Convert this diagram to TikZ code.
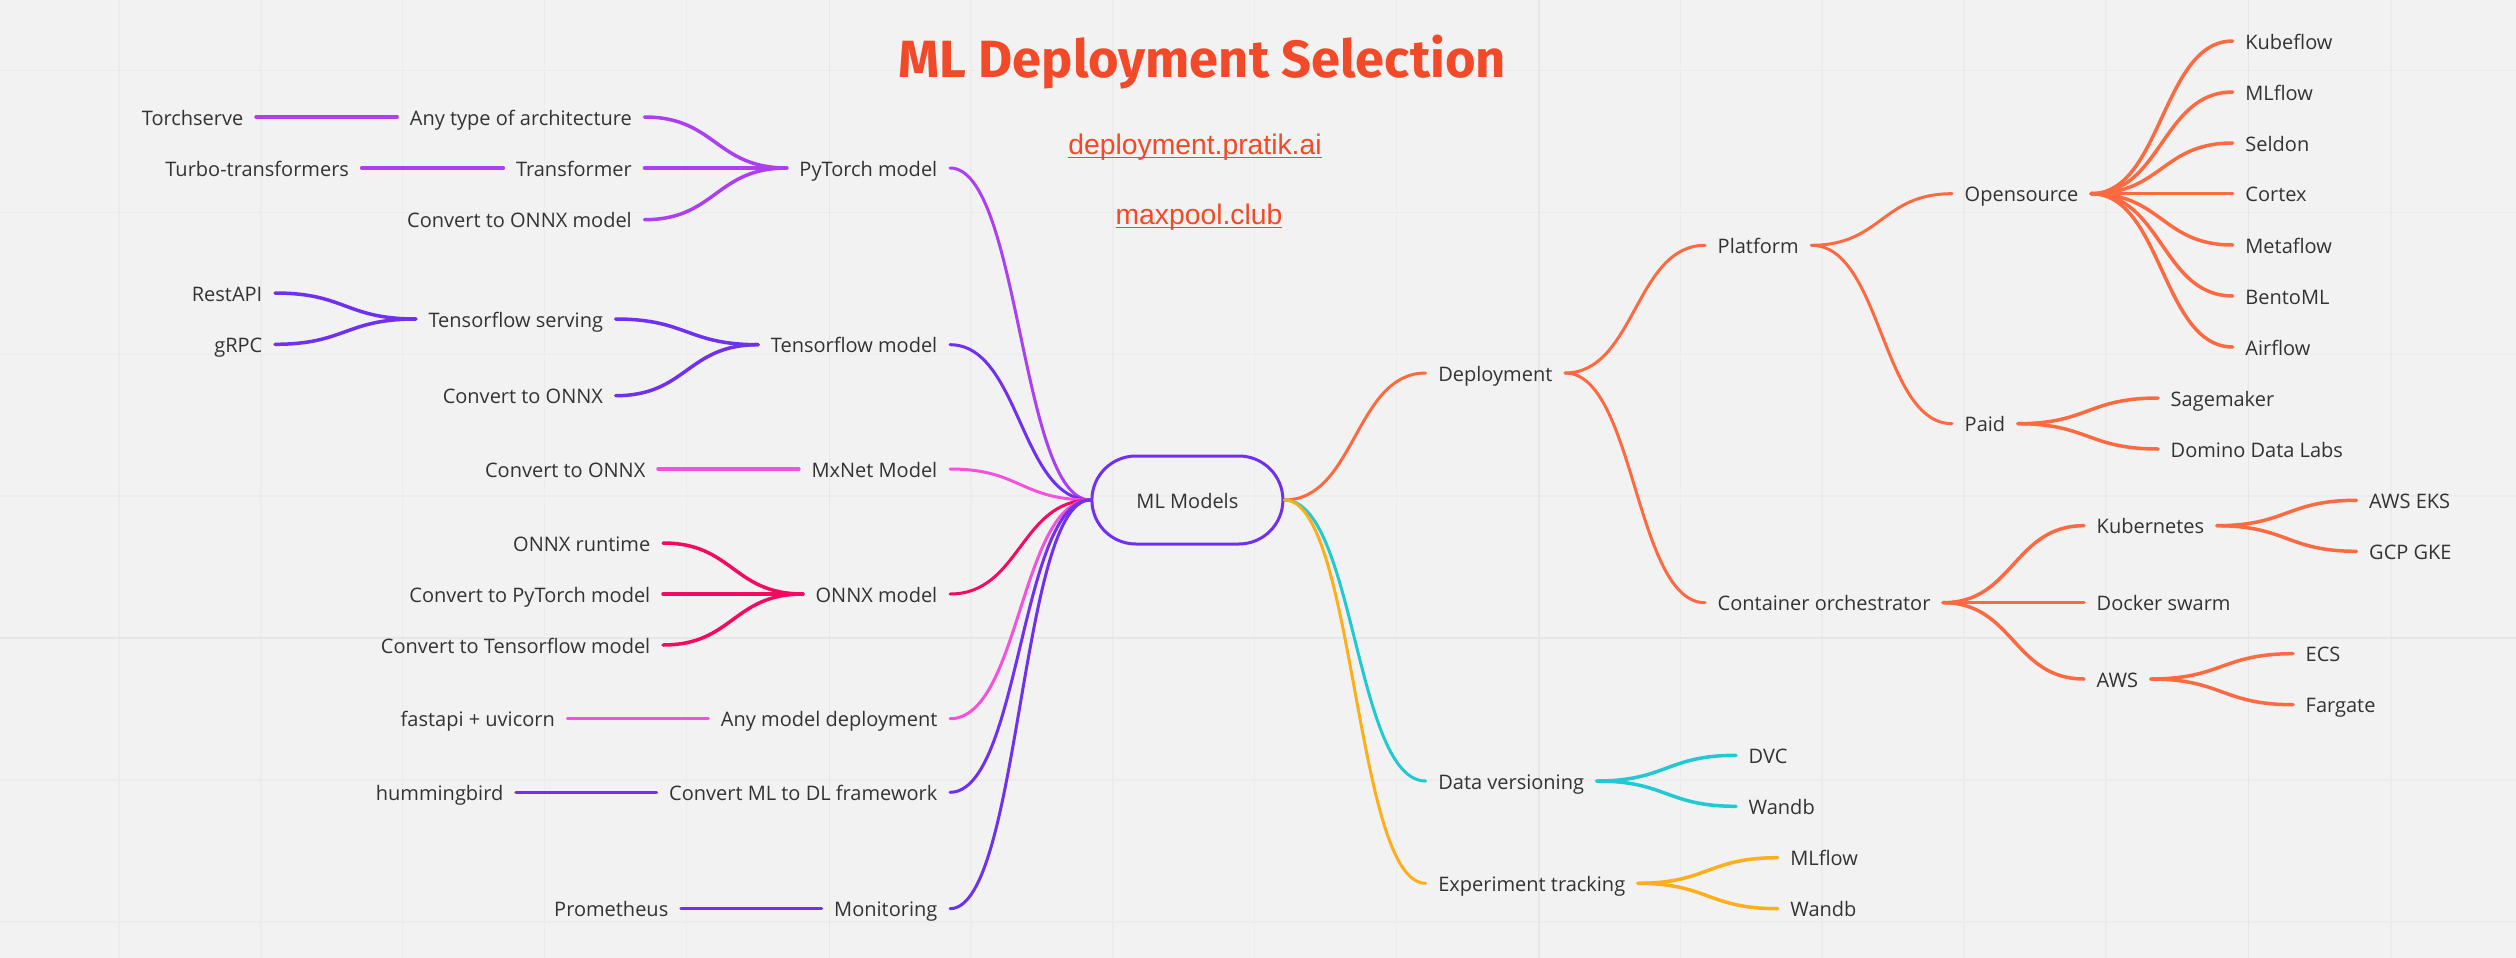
\documentclass[tikz,border=0pt]{standalone}
\usepackage{fontspec}
\setmainfont{Open Sans}
\newfontfamily\titlefont{Fira Sans}
\newfontfamily\linkfont{Liberation Sans}
\usetikzlibrary{calc}
\newcommand{\weburl}[1]{\setbox0=\hbox{#1}\rlap{\rule[-4pt]{\wd0}{1.8pt}}\box0}

\definecolor{paper}{HTML}{F2F2F2}
\definecolor{gridminor}{HTML}{ECECEC}
\definecolor{gridmajor}{HTML}{E6E6E6}
\definecolor{titlered}{HTML}{F24A28}
\definecolor{torchpurple}{HTML}{AC3FF0}
\definecolor{flowviolet}{HTML}{7030F0}
\definecolor{mxpink}{HTML}{F552DC}
\definecolor{onnxred}{HTML}{F50A62}
\definecolor{deployorange}{HTML}{FC6A42}
\definecolor{dataTeal}{HTML}{22C8D2}
\definecolor{trackyellow}{HTML}{FCAE1C}

\tikzset{
    topic/.style={inner xsep=12.5pt, inner ysep=0pt, text height=20pt, text depth=4pt,
        text=black!80, font=\fontsize{20}{24}\selectfont},
    branch/.style={to path={let \p1=(\tikztostart), \p2=(\tikztotarget), \n1={0.5*(\x2-\x1)} in
        .. controls ($(\tikztostart)+(\n1,0)$) and ($(\tikztotarget)-(\n1,0)$) .. (\tikztotarget)}},
    limb/.style={line width=3pt, line cap=round},
    twig/.style={line width=3.5pt, line cap=round},
    weblink/.style={text=titlered, font=\linkfont\fontsize{28.3}{34}\selectfont}
}

\begin{document}
\begin{tikzpicture}[x=1pt, y=-1pt]
    % paper and dot grid
    \fill[paper] (0,0) rectangle (2516,958);
    \useasboundingbox (0,0) rectangle (2516,958);
    \foreach \gx in {119,260.8,402.7,544.5,686.4,971,1112.9,1254.7,1396.6,1680.3,1822.1,1964,2105.8,2391}
        \draw[gridminor, line width=1.5pt] (\gx,0) -- (\gx,958);
    \foreach \gy in {70.7,212.5,354.3,496.2,780,921.8}
        \draw[gridminor, line width=1.5pt] (0,\gy) -- (2516,\gy);
    \foreach \gx in {829.6,1539,2248.7}
        \draw[gridmajor, line width=1.5pt] (\gx,0) -- (\gx,958);
    \draw[gridmajor, line width=2pt] (0,638) -- (2516,638);

    % title and links
    \node[text=titlered, font=\titlefont\bfseries\fontsize{52.4}{62}\selectfont] (title) at (1202,62) {ML Deployment Selection};
    \node[weblink] (linkdeploy) at (1195,147) {\weburl{deployment.pratik.ai}};
    \node[weblink] (linkpool) at (1199,217) {\weburl{maxpool.club}};

    % root
    \node[topic, draw=flowviolet, line width=3pt, rounded corners=44pt, minimum width=191pt, minimum height=88pt] (root) at (1187.4,500) {ML Models};

    % left side
    \node[topic, anchor=east] (pytorch) at (950,168) {PyTorch model};
    \node[topic, anchor=east] (anyarch) at (644.5,117) {Any type of architecture};
    \node[topic, anchor=east] (transformer) at (644.5,168) {Transformer};
    \node[topic, anchor=east] (toonnxa) at (644.5,219.7) {Convert to ONNX model};
    \node[topic, anchor=east] (torchserve) at (256,117) {Torchserve};
    \node[topic, anchor=east] (turbo) at (361.7,168) {Turbo-transformers};

    \node[topic, anchor=east] (tensorflow) at (950,344.7) {Tensorflow model};
    \node[topic, anchor=east] (tfserving) at (615.7,319) {Tensorflow serving};
    \node[topic, anchor=east] (toonnxb) at (615.7,395.7) {Convert to ONNX};
    \node[topic, anchor=east] (restapi) at (275,293) {RestAPI};
    \node[topic, anchor=east] (grpc) at (275,344.3) {gRPC};

    \node[topic, anchor=east] (mxnet) at (950,469) {MxNet Model};
    \node[topic, anchor=east] (toonnxc) at (658,469) {Convert to ONNX};

    \node[topic, anchor=east] (onnx) at (950,594) {ONNX model};
    \node[topic, anchor=east] (runtime) at (663,543) {ONNX runtime};
    \node[topic, anchor=east] (topytorch) at (663,594) {Convert to PyTorch model};
    \node[topic, anchor=east] (totf) at (663,645) {Convert to Tensorflow model};

    \node[topic, anchor=east] (anymodel) at (950,718.7) {Any model deployment};
    \node[topic, anchor=east] (fastapi) at (567.5,718.7) {fastapi + uvicorn};
    \node[topic, anchor=east] (mltodl) at (950,792.3) {Convert ML to DL framework};
    \node[topic, anchor=east] (hummingbird) at (516,792.3) {hummingbird};
    \node[topic, anchor=east] (monitoring) at (950,908.7) {Monitoring};
    \node[topic, anchor=east] (prometheus) at (681,908.7) {Prometheus};

    % right side
    \node[topic, anchor=west] (deployment) at (1425.6,373) {Deployment};
    \node[topic, anchor=west] (platform) at (1705,245.3) {Platform};
    \node[topic, anchor=west] (orchestrator) at (1705,602.7) {Container orchestrator};
    \node[topic, anchor=west] (opensource) at (1952,193.7) {Opensource};
    \node[topic, anchor=west] (paid) at (1952,423.7) {Paid};
    \node[topic, anchor=west] (kubeflow) at (2232.7,41) {Kubeflow};
    \node[topic, anchor=west] (mlflowa) at (2232.7,92) {MLflow};
    \node[topic, anchor=west] (seldon) at (2232.7,143) {Seldon};
    \node[topic, anchor=west] (cortex) at (2232.7,193.7) {Cortex};
    \node[topic, anchor=west] (metaflow) at (2232.7,245) {Metaflow};
    \node[topic, anchor=west] (bentoml) at (2232.7,296) {BentoML};
    \node[topic, anchor=west] (airflow) at (2232.7,347) {Airflow};
    \node[topic, anchor=west] (sagemaker) at (2158,398) {Sagemaker};
    \node[topic, anchor=west] (domino) at (2158,449) {Domino Data Labs};
    \node[topic, anchor=west] (kubernetes) at (2084,525.7) {Kubernetes};
    \node[topic, anchor=west] (swarm) at (2084,602.7) {Docker swarm};
    \node[topic, anchor=west] (aws) at (2084,679) {AWS};
    \node[topic, anchor=west] (eks) at (2356.5,500.3) {AWS EKS};
    \node[topic, anchor=west] (gke) at (2356.5,551.3) {GCP GKE};
    \node[topic, anchor=west] (ecs) at (2293,653.7) {ECS};
    \node[topic, anchor=west] (fargate) at (2293,704.7) {Fargate};

    \node[topic, anchor=west] (versioning) at (1425.6,781) {Data versioning};
    \node[topic, anchor=west] (dvc) at (1736,755.3) {DVC};
    \node[topic, anchor=west] (wandba) at (1736,806.3) {Wandb};
    \node[topic, anchor=west] (tracking) at (1425.6,883.3) {Experiment tracking};
    \node[topic, anchor=west] (mlflowb) at (1777.7,857.7) {MLflow};
    \node[topic, anchor=west] (wandbb) at (1777.7,908.7) {Wandb};

    % left connectors
    \draw[limb, torchpurple] (pytorch.east) to[branch] (root.west);
    \draw[limb, flowviolet] (tensorflow.east) to[branch] (root.west);
    \draw[limb, mxpink] (mxnet.east) to[branch] (root.west);
    \draw[limb, onnxred] (onnx.east) to[branch] (root.west);
    \draw[limb, mxpink] (anymodel.east) to[branch] (root.west);
    \draw[limb, flowviolet] (mltodl.east) to[branch] (root.west);
    \draw[limb, flowviolet] (monitoring.east) to[branch] (root.west);

    \draw[twig, torchpurple] (anyarch.east) to[branch] (pytorch.west);
    \draw[twig, torchpurple] (transformer.east) to[branch] (pytorch.west);
    \draw[twig, torchpurple] (toonnxa.east) to[branch] (pytorch.west);
    \draw[twig, torchpurple] (torchserve.east) -- (anyarch.west);
    \draw[twig, torchpurple] (turbo.east) -- (transformer.west);

    \draw[twig, flowviolet] (tfserving.east) to[branch] (tensorflow.west);
    \draw[twig, flowviolet] (toonnxb.east) to[branch] (tensorflow.west);
    \draw[twig, flowviolet] (restapi.east) to[branch] (tfserving.west);
    \draw[twig, flowviolet] (grpc.east) to[branch] (tfserving.west);

    \draw[twig, mxpink] (toonnxc.east) -- (mxnet.west);

    \draw[twig, onnxred] (runtime.east) to[branch] (onnx.west);
    \draw[twig, onnxred] (topytorch.east) to[branch] (onnx.west);
    \draw[twig, onnxred] (totf.east) to[branch] (onnx.west);

    \draw[twig, mxpink] (fastapi.east) -- (anymodel.west);
    \draw[twig, flowviolet] (hummingbird.east) -- (mltodl.west);
    \draw[twig, flowviolet] (prometheus.east) -- (monitoring.west);

    % right connectors
    \draw[limb, deployorange] (root.east) to[branch] (deployment.west);
    \draw[limb, dataTeal] (root.east) to[branch] (versioning.west);
    \draw[limb, trackyellow] (root.east) to[branch] (tracking.west);

    \draw[limb, deployorange] (deployment.east) to[branch] (platform.west);
    \draw[limb, deployorange] (deployment.east) to[branch] (orchestrator.west);
    \draw[limb, deployorange] (platform.east) to[branch] (opensource.west);
    \draw[limb, deployorange] (platform.east) to[branch] (paid.west);
    \foreach \leaf in {kubeflow,mlflowa,seldon,cortex,metaflow,bentoml,airflow}
        \draw[twig, deployorange] (opensource.east) to[branch] (\leaf.west);
    \draw[twig, deployorange] (paid.east) to[branch] (sagemaker.west);
    \draw[twig, deployorange] (paid.east) to[branch] (domino.west);
    \foreach \leaf in {kubernetes,swarm,aws}
        \draw[twig, deployorange] (orchestrator.east) to[branch] (\leaf.west);
    \draw[twig, deployorange] (kubernetes.east) to[branch] (eks.west);
    \draw[twig, deployorange] (kubernetes.east) to[branch] (gke.west);
    \draw[twig, deployorange] (aws.east) to[branch] (ecs.west);
    \draw[twig, deployorange] (aws.east) to[branch] (fargate.west);

    \draw[twig, dataTeal] (versioning.east) to[branch] (dvc.west);
    \draw[twig, dataTeal] (versioning.east) to[branch] (wandba.west);
    \draw[twig, trackyellow] (tracking.east) to[branch] (mlflowb.west);
    \draw[twig, trackyellow] (tracking.east) to[branch] (wandbb.west);
\end{tikzpicture}
\end{document}
